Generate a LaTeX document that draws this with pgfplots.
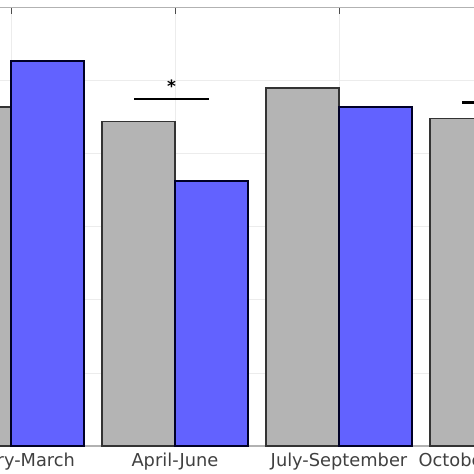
\documentclass[border=0pt]{standalone}
\usepackage{pgfplots}
\pgfplotsset{compat=1.18}
\usepackage{fontspec}
\setmainfont{DejaVu Sans}
\definecolor{bargray}{RGB}{180,180,180}
\definecolor{barblue}{RGB}{98,98,255}
\begin{document}
\begin{tikzpicture}
\useasboundingbox (0,-474pt) rectangle (474pt,0);
\clip (0,-474pt) rectangle (474pt,0);
\begin{axis}[
    scale only axis,
    width=656pt,
    height=438.5pt,
    at={(-71pt,-446pt)},
    anchor=south west,
    ybar=0pt,
    bar width=73pt,
    xmin=0.5, xmax=4.5,
    ymin=0, ymax=6,
    xtick={1,2,3,4},
    xticklabels={January-March, April-June, July-September, October-December},
    ytick={0,1,2,3,4,5,6},
    yticklabels={},
    tick align=inside,
    major tick length=6pt,
    tick style={gray!60!black, line width=0.8pt},
    axis line style={gray!60, line width=1.2pt},
    grid=major,
    major grid style={gray!15, line width=0.8pt},
    ticklabel style={font=\fontsize{17.8}{19}\selectfont, text=black!75},
    xticklabel style={yshift=-3pt},
    legend style={at={(0.831,0.949)}, anchor=north west, draw=gray!30,
        font=\fontsize{14}{16}\selectfont},
]
\addplot[draw=black!80, fill=bargray, line width=1.6pt] coordinates {
    (1,4.64) (2,4.44) (3,4.90) (4,4.48)
};
\addplot[draw=black!85!blue, fill=barblue, line width=1.6pt] coordinates {
    (1,5.27) (2,3.63) (3,4.64) (4,4.10)
};
\legend{Group A, Group B}
% significance bars
\draw[line width=2.6pt] (axis cs:1.75,4.75) -- (axis cs:2.207,4.75);
\node at (axis cs:1.979,4.93) {\fontsize{17}{17}\selectfont\bfseries *};
\draw[line width=2.6pt] (axis cs:3.75,4.70) -- (axis cs:4.207,4.70);
\node at (axis cs:3.979,4.88) {\fontsize{17}{17}\selectfont\bfseries *};
\end{axis}
\end{tikzpicture}
\end{document}
